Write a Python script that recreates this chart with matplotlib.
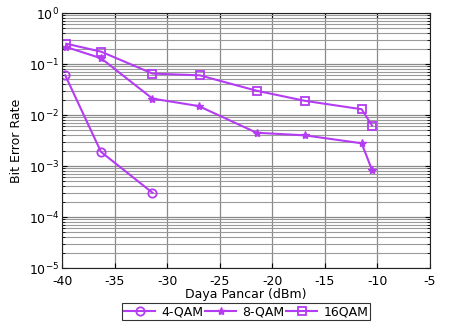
import matplotlib
matplotlib.use("Agg")
import matplotlib.pyplot as plt
import numpy as np

x_4qam = [-39.7, -36.3, -31.4]
ber_4qam = [0.060, 0.0019, 0.00030]

x_8qam = [-39.6, -36.3, -31.4, -27.0, -21.5, -16.9, -11.5, -10.5]
ber_8qam = [0.215, 0.13, 0.021, 0.015, 0.0045, 0.0040, 0.0028, 0.00083]

x_16qam = [-39.6, -36.3, -31.4, -26.9, -21.5, -16.9, -11.5, -10.5]
ber_16qam = [0.25, 0.175, 0.065, 0.060, 0.030, 0.019, 0.013, 0.0062]

labels = ["4-QAM", "8-QAM", "16QAM"]
xticks = [-40, -35, -30, -25, -20, -15, -10, -5]

color = "#b43cf2"

fig = plt.figure(figsize=(4.74, 3.25), dpi=100)
ax = fig.add_axes([0.131, 0.175, 0.776, 0.785])

ax.semilogy(x_4qam, ber_4qam, '-o', color=color, lw=1.5, ms=6, mfc='none', mew=1.3, label=labels[0])
ax.semilogy(x_8qam, ber_8qam, '-*', color=color, lw=1.5, ms=6, mew=1.0, label=labels[1])
ax.semilogy(x_16qam, ber_16qam, '-s', color=color, lw=1.5, ms=6, mfc='none', mew=1.3, label=labels[2])

ax.set_xlim(-40, -5)
ax.set_ylim(1e-5, 1)
ax.set_xticks(xticks)
ax.set_xticklabels([str(t) for t in xticks])
ax.grid(True, which='major', color='#8a8a8a', lw=0.9)
ax.grid(True, which='minor', axis='y', color='#9a9a9a', lw=0.8)
ax.tick_params(which='both', direction='in', top=True, right=True, labelsize=9)
ax.tick_params(axis='x', pad=5)
ax.tick_params(axis='y', pad=2)
ax.set_xlabel("Daya Pancar (dBm)", fontsize=9, labelpad=0)
ax.set_ylabel("Bit Error Rate", fontsize=9)
for s in ax.spines.values():
    s.set_color('#222222')

leg = fig.legend(loc='lower left', bbox_to_anchor=(0.258, 0.015, 0.523, 0.06), mode='expand',
                 ncol=3, fontsize=9, frameon=True, fancybox=False, edgecolor='black',
                 handlelength=2.5, borderpad=0.15, columnspacing=1.0, handletextpad=0.5,
                 borderaxespad=0.0)
leg.get_frame().set_linewidth(0.8)

fig.savefig("out.png", dpi=100)
